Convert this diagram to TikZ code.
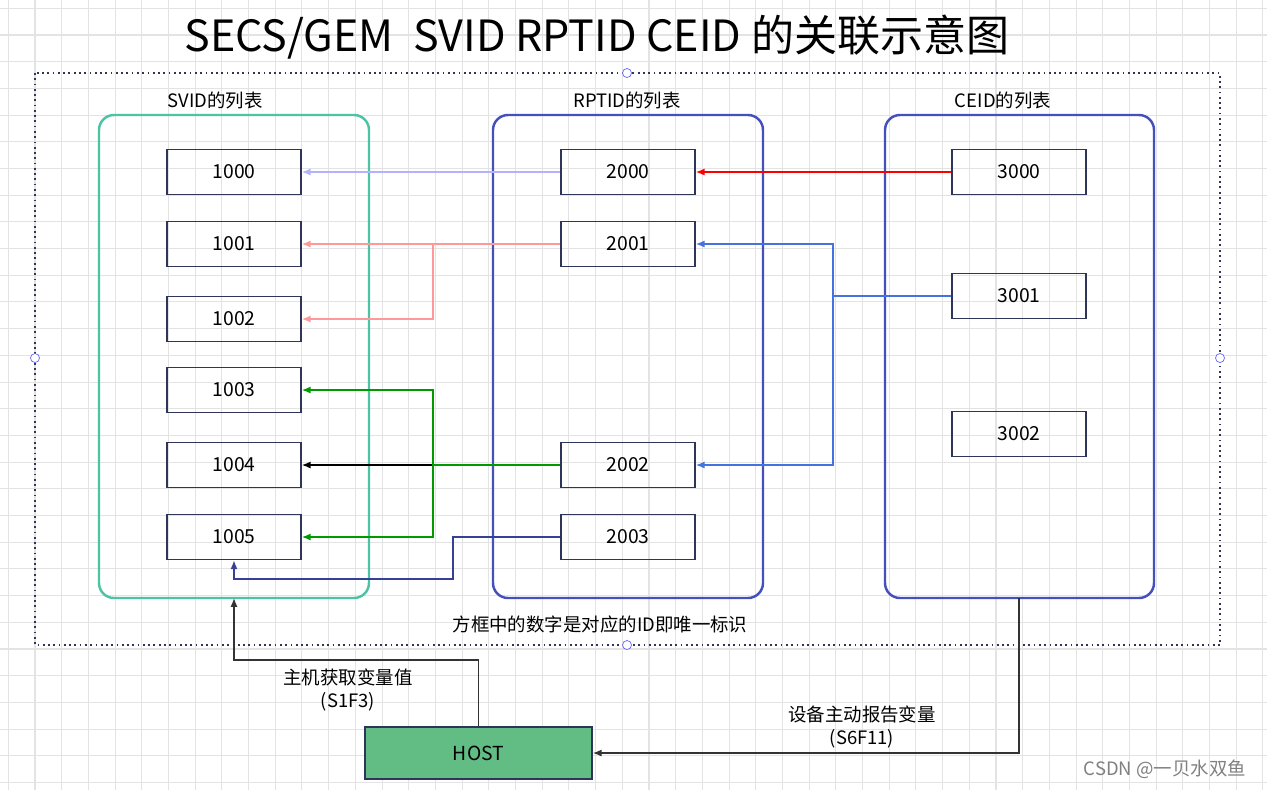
\documentclass[tikz,border=0pt]{standalone}
\usepackage{fontspec}
\setmainfont{Noto Sans CJK SC}
\usetikzlibrary{arrows.meta}
\definecolor{svidc}{HTML}{4DC3A6}
\definecolor{listc}{HTML}{4450BC}
\definecolor{boxc}{HTML}{2F3558}
\definecolor{hostc}{HTML}{62BD85}
\definecolor{linkc}{HTML}{4472E0}
\begin{document}
\begin{tikzpicture}[x=0.02cm, y=-0.02cm,
    idbox/.style={draw=boxc, line width=0.9pt, minimum width=2.68cm, minimum height=0.9cm, inner sep=0pt, font=\fontsize{11}{13}\selectfont},
    list/.style={draw=listc, line width=1.4pt, rounded corners=0.3cm},
    lbl/.style={font=\fontsize{10.5}{13}\selectfont, align=center},
    tip/.style={-{Latex[length=5pt,width=4pt]}, line width=0.8pt},
    handle/.style={draw=blue!60, fill=white, circle, inner sep=0pt, minimum size=0.18cm}]
    \useasboundingbox (0,0) rectangle (1267,789);
    \draw[gray!22, line width=0.6pt, step=0.534cm, shift={(8.3,8.3)}] (-8.3,-8.3) grid (1267,789);
    \node[font=\fontsize{24.5}{28}\selectfont] (title) at (597, 37) {SECS/GEM\ \ SVID RPTID CEID 的关联示意图};
    \draw[boxc, dotted, line width=1pt] (35,73) rectangle (1220,645);
    \node[handle] (h-t) at (627, 73) {};
    \node[handle] (h-b) at (627, 645) {};
    \node[handle] (h-l) at (35, 358) {};
    \node[handle] (h-r) at (1220, 358) {};
    % lists
    \draw[list, draw=svidc] (99,115) rectangle (369,598);
    \draw[list] (493,115) rectangle (763,598);
    \draw[list] (885,115) rectangle (1154,598);
    \coordinate (svid-b) at (234, 598);
    \coordinate (ceid-b) at (1019, 598);
    \node[lbl] (svid-l) at (215, 100) {SVID的列表};
    \node[lbl] (rptid-l) at (627, 100) {RPTID的列表};
    \node[lbl] (ceid-l) at (1003, 100) {CEID的列表};
    % ids
    \node[idbox] (1000) at (234, 172) {1000};
    \node[idbox] (1001) at (234, 244) {1001};
    \node[idbox] (1002) at (234, 319) {1002};
    \node[idbox] (1003) at (234, 390) {1003};
    \node[idbox] (1004) at (234, 465) {1004};
    \node[idbox] (1005) at (234, 537) {1005};
    \node[idbox] (2000) at (628, 172) {2000};
    \node[idbox] (2001) at (628, 244) {2001};
    \node[idbox] (2002) at (628, 465) {2002};
    \node[idbox] (2003) at (628, 537) {2003};
    \node[idbox] (3000) at (1019, 172) {3000};
    \node[idbox] (3001) at (1019, 296) {3001};
    \node[idbox] (3002) at (1019, 434) {3002};
    \node[idbox, fill=hostc, minimum width=4.54cm, minimum height=1.04cm] (host) at (478.5, 753) {HOST};
    % links
    \draw[tip, color=blue!30] (2000) -- (1000);
    \draw[tip, color=red!40] (2001) -- (1001);
    \draw[tip, color=red!40] (2001.west) -| (433,319) -- (1002);
    \draw[tip, color=black] (2002) -- (1004);
    \draw[tip, color=green!60!black] (2002.west) -- (433,465) |- (1003);
    \draw[tip, color=green!60!black] (2002.west) -- (433,465) |- (1005);
    \draw[tip, color=listc!80!black] (2003.west) -| (453,579) -| (1005.south);
    \draw[tip, color=red] (3000) -- (2000);
    \draw[tip, color=linkc] (3001.west) -| (833,244) -- (2001.east);
    \draw[tip, color=linkc] (3001.west) -| (833,465) -- (2002.east);
    \draw[tip, color=black!80] (host.north) |- (234,660) -- (svid-b);
    \draw[tip, color=black!80] (ceid-b) |- (host.east);
    \node[lbl] (get) at (348, 690) {主机获取变量值\\(S1F3)};
    \node[lbl] (report) at (862, 727) {设备主动报告变量\\(S6F11)};
    \node[lbl] (note) at (600, 624) {方框中的数字是对应的ID即唯一标识};
    \node[lbl, text=gray] (mark) at (1165, 769) {CSDN @一贝水双鱼};
\end{tikzpicture}
\end{document}
